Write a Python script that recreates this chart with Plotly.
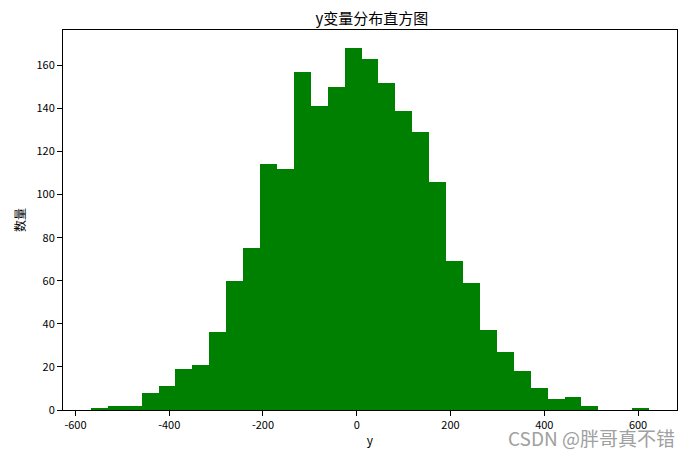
import plotly.graph_objects as go
import numpy as np

# Histogram data
counts = [1, 2, 2, 8, 11, 19, 21, 36, 60, 75, 114, 112, 157, 141, 150, 168, 163,
          152, 139, 129, 106, 69, 59, 37, 27, 18, 10, 5, 6, 2, 0, 0, 1]
data_min = -567.0
data_max = 623.5
n_bins = len(counts)

x_tick_vals = [-600, -400, -200, 0, 200, 400, 600]
x_tick_text = ["-600", "-400", "-200", "0", "200", "400", "600"]
y_tick_vals = [0, 20, 40, 60, 80, 100, 120, 140, 160]

edges = np.linspace(data_min, data_max, n_bins + 1)
centers = (edges[:-1] + edges[1:]) / 2
width = edges[1] - edges[0]

FONT = "Noto Sans CJK SC"

fig = go.Figure()
fig.add_trace(go.Bar(
    x=centers, y=counts, width=[width] * n_bins,
    marker=dict(color="#008000", line=dict(width=0)),
    hoverinfo="x+y",
))

# The page body has an 8px default margin, so the figure is sized to fit
# the 692x456 window starting at (8, 8).
span = data_max - data_min
fig.update_layout(
    width=684, height=448,
    margin=dict(l=55, r=15, t=22, b=46, autoexpand=False),
    paper_bgcolor="white", plot_bgcolor="white",
    bargap=0, showlegend=False,
    font=dict(family=FONT, size=11, color="black"),
    title=dict(text="y变量分布直方图", x=0.532, xanchor="center", y=0.977, yanchor="middle",
               font=dict(family=FONT, size=15, color="black")),
    xaxis=dict(
        range=[data_min - 0.05 * span, data_max + 0.05 * span],
        tickvals=x_tick_vals, ticktext=x_tick_text,
        ticks="outside", ticklen=5, tickcolor="black", tickwidth=1,
        showline=True, linecolor="black", linewidth=1, mirror=True,
        showgrid=False, zeroline=False, automargin=False,
        title=dict(text="y", font=dict(family=FONT, size=12), standoff=5),
        tickfont=dict(family=FONT, size=11),
    ),
    yaxis=dict(
        range=[0, max(counts) * 1.05],
        tickvals=y_tick_vals,
        ticks="outside", ticklen=5, tickcolor="black", tickwidth=1,
        showline=True, linecolor="black", linewidth=1, mirror=True,
        showgrid=False, zeroline=False, automargin=False,
        title=dict(text="数量", font=dict(family=FONT, size=12), standoff=8),
        tickfont=dict(family=FONT, size=11),
    ),
    annotations=[dict(
        text="CSDN @胖哥真不错", xref="paper", yref="paper",
        x=1.0, y=-0.073, xanchor="right", yanchor="middle",
        showarrow=False, font=dict(family=FONT, size=19, color="#a0a0a0"),
    )],
)

fig.write_html("out.html")
